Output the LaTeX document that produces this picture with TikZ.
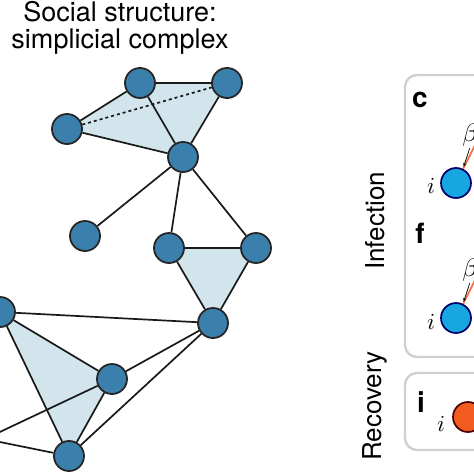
\documentclass[tikz,border=0pt]{standalone}
\usepackage{fontspec}
\setmainfont{TeX Gyre Heros}
\usetikzlibrary{arrows.meta,backgrounds,positioning}

\definecolor{agentblue}{RGB}{59,128,173}
\definecolor{faceblue}{RGB}{210,228,236}
\definecolor{suscblue}{RGB}{22,166,224}
\definecolor{infred}{RGB}{243,92,32}
\definecolor{panelgrey}{RGB}{208,208,208}

\newcommand{\bigmath}[2][2.3]{\scalebox{#1}{$#2$}}

\begin{document}
\begin{tikzpicture}
  [x=1pt,y=-1pt,
  agent/.style={circle,draw=black!85,fill=agentblue,line width=1.8pt,minimum size=30pt,inner sep=0pt},
  tie/.style={line width=1.7pt,draw=black!90},
  face/.style={fill=faceblue},
  panel/.style={draw=panelgrey,line width=2.4pt,rounded corners=12pt},
  susc/.style={circle,draw=blue!40!black,fill=suscblue,line width=1.7pt,minimum size=30pt,inner sep=0pt},
  infec/.style={circle,draw=red!30!black,fill=infred,line width=1.7pt,minimum size=30pt,inner sep=0pt},
  heading/.style={font=\fontsize{27}{30}\selectfont},
  sidelabel/.style={font=\fontsize{26}{30}\selectfont,rotate=90},
  panellabel/.style={font=\fontsize{28}{30}\selectfont\bfseries,anchor=base},
  mathlabel/.style={inner sep=1pt}]

\useasboundingbox (0,0) rectangle (474,474);
\clip (0,0) rectangle (474,474);

% title
\node[heading,anchor=base] (title-top) at (120,21) {Social structure:};
\node[heading,anchor=base] (title-bottom) at (120,48) {simplicial complex};

% agents
\node[agent] (a) at (140,83) {};
\node[agent] (b) at (227,83) {};
\node[agent] (c) at (67,129) {};
\node[agent] (d) at (183,157) {};
\node[agent] (e) at (85,236) {};
\node[agent] (f) at (169,248) {};
\node[agent] (g) at (256,248) {};
\node[agent] (h) at (213,323) {};
\node[agent] (l) at (0,312) {};
\node[agent] (j) at (112,379) {};
\node[agent] (m) at (69,456) {};
\coordinate (off) at (-15,439);

% simplices and ties behind the agents
\begin{scope}[on background layer]
\fill[face] (c.center) -- (a.center) -- (b.center) -- (d.center) -- cycle;
\fill[face] (f.center) -- (g.center) -- (h.center) -- cycle;
\fill[face] (l.center) -- (j.center) -- (m.center) -- cycle;

\draw[tie] (a) -- (b);
\draw[tie] (a) -- (c);
\draw[tie] (a) -- (d);
\draw[tie] (b) -- (d);
\draw[tie] (c) -- (d);
\draw[tie,dashed] (c) -- (b);
\draw[tie] (d) -- (e);
\draw[tie] (d) -- (f);
\draw[tie] (d) -- (g);
\draw[tie] (f) -- (g);
\draw[tie] (f) -- (h);
\draw[tie] (g) -- (h);
\draw[tie] (l) -- (h);
\draw[tie] (l) -- (j);
\draw[tie] (l) -- (m);
\draw[tie] (j) -- (m);
\draw[tie] (j) -- (h);
\draw[tie] (m) -- (h);
\draw[tie] (j) -- (off);
\draw[tie] (m) -- (off);
\end{scope}

% processes
\node[sidelabel] (infection) at (375,221) {Infection};
\node[sidelabel] (recovery) at (375,406) {Recovery};

\draw[panel] (405,75) rectangle (520,357);
\draw[panel] (405,373) rectangle (520,450);

\node[panellabel] (lbl-c) at (420,107) {c};
\node[panellabel] (lbl-f) at (420,243) {f};
\node[panellabel] (lbl-i) at (421,412) {i};

% infection, first row
\node[susc] (s1) at (456,183) {};
\node[mathlabel] (i1) at (431,186) {\bigmath{i}};
\node[mathlabel] (beta1) at (470,135) {\bigmath[2.5]{\beta}};
\coordinate (far1) at (492,111);
\draw[draw=infred!85,line width=1.8pt] (s1) -- (far1);
\draw[-{Stealth[length=4pt]},line width=0.7pt,shorten <=1pt,shorten >=2pt] (beta1.south) -- (s1.64);

% infection, second row
\node[susc] (s2) at (456,318) {};
\node[mathlabel] (i2) at (431,322) {\bigmath{i}};
\node[mathlabel] (beta2) at (470,270) {\bigmath[2.5]{\beta}};
\coordinate (far2) at (492,246);
\draw[draw=infred!85,line width=1.8pt] (s2) -- (far2);
\draw[-{Stealth[length=4pt]},line width=0.7pt,shorten <=1pt,shorten >=2pt] (beta2.south) -- (s2.64);

% recovery
\node[infec] (r1) at (468,417) {};
\node[mathlabel] (i3) at (441,424) {\bigmath{i}};

\end{tikzpicture}
\end{document}
